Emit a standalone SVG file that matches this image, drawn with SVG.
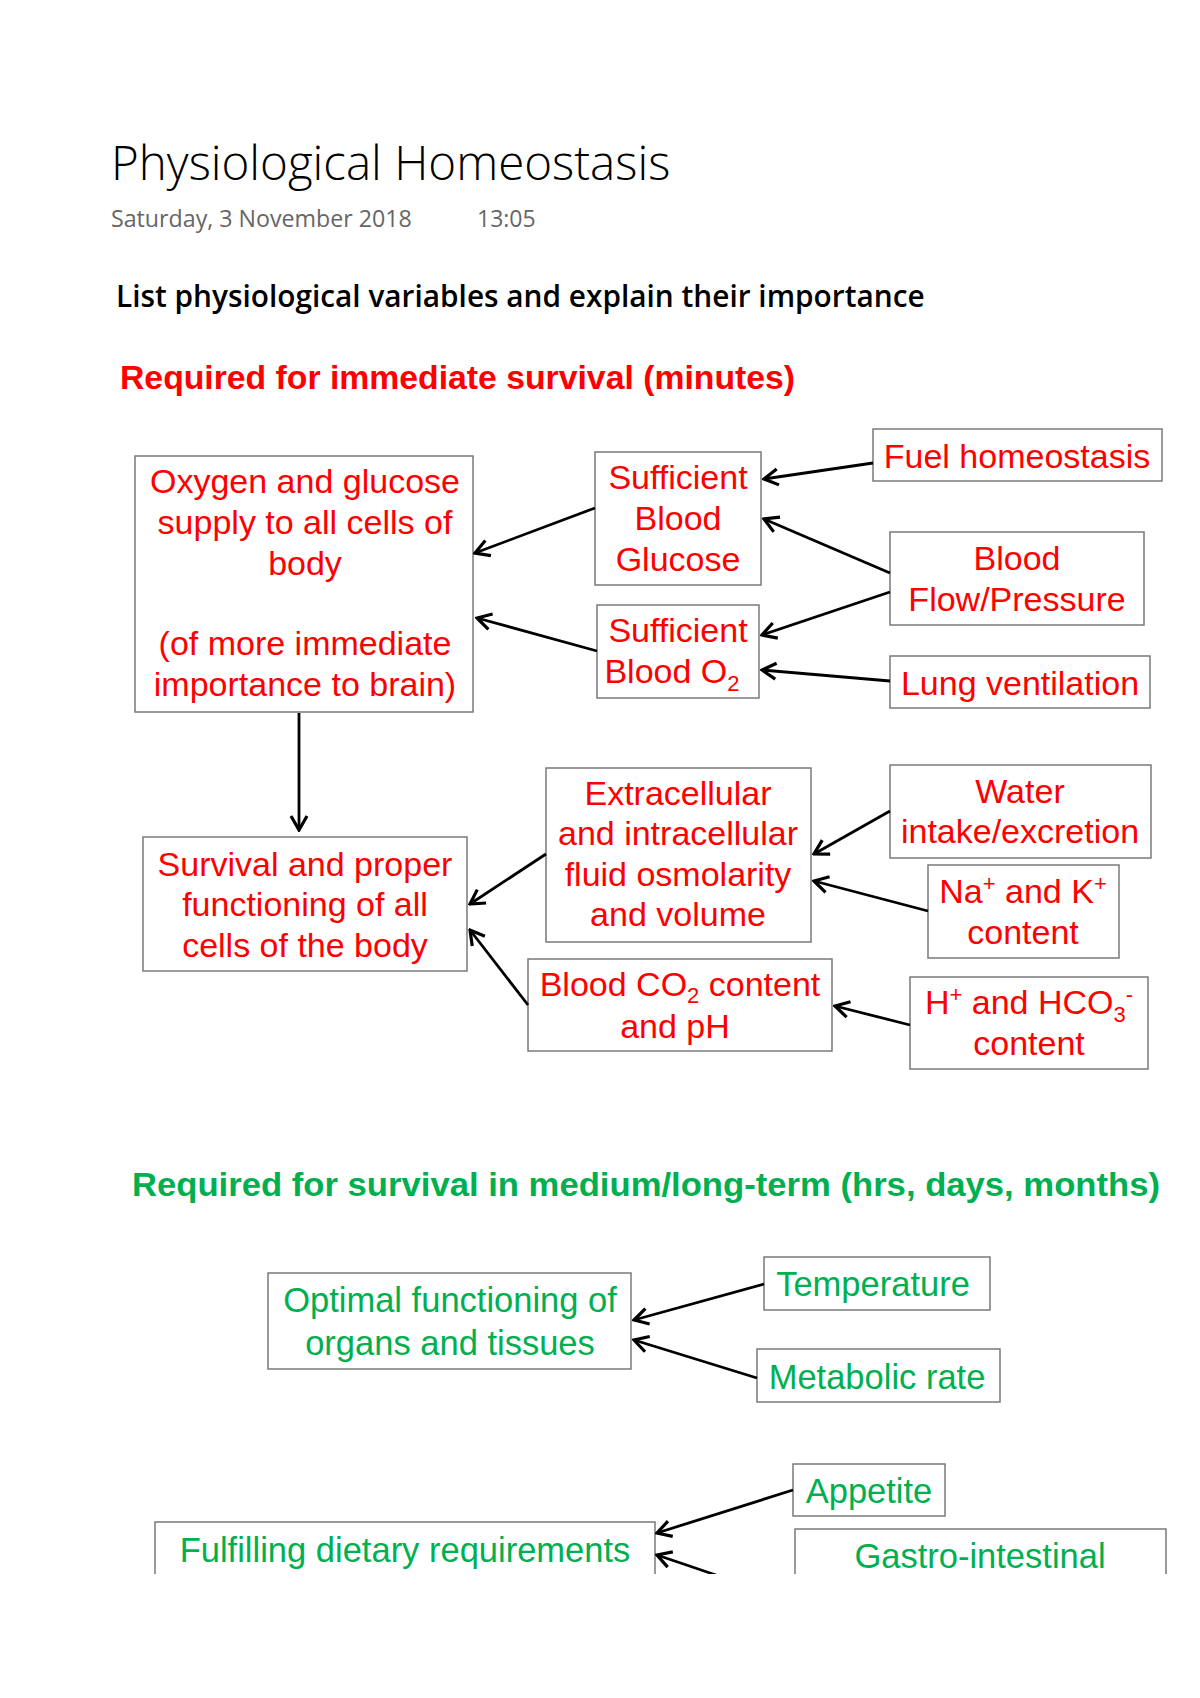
<svg xmlns="http://www.w3.org/2000/svg" width="1200" height="1698" viewBox="0 0 1200 1698">
<style>
.r{fill:#ff0000;font-family:"Liberation Sans",Arial,sans-serif;font-size:34px;text-anchor:middle}
.g{fill:#00b050;font-family:"Liberation Sans",Arial,sans-serif;font-size:34.5px;text-anchor:middle}
.box{fill:#fff;stroke:#7a7a7a;stroke-width:1.5}
.c line{stroke:#000;stroke-width:2.8}
.sub{font-size:22px}
</style>
<defs>
<marker id="a" viewBox="0 0 20 20" refX="18" refY="10" markerWidth="20" markerHeight="20" markerUnits="userSpaceOnUse" orient="auto">
<path d="M4,2 L18,10 L4,18" fill="none" stroke="#000" stroke-width="3.2"/>
</marker>
</defs>
<rect width="1200" height="1698" fill="#fff"/>
<text x="111" y="180" font-family="'Open Sans',sans-serif" font-weight="300" font-size="47.5" fill="#000">Physiological Homeostasis</text>
<text x="111" y="227" font-family="'Open Sans',sans-serif" font-size="23.2" fill="#666">Saturday, 3 November 2018</text>
<text x="477" y="227" font-family="'Open Sans',sans-serif" font-size="23" fill="#666">13:05</text>
<text x="116" y="307" font-family="'Open Sans',sans-serif" font-weight="600" font-size="29.8" fill="#000">List physiological variables and explain their importance</text>
<text x="120" y="389" font-family="'Liberation Sans',Arial,sans-serif" font-weight="bold" font-size="33" fill="#ff0000" textLength="675" lengthAdjust="spacingAndGlyphs">Required for immediate survival (minutes)</text>

<g id="oxygen"><rect class="box" x="135" y="456" width="338" height="256"/>
<text class="r"><tspan x="305" y="493">Oxygen and glucose</tspan><tspan x="305" y="534">supply to all cells of</tspan><tspan x="305" y="575">body</tspan><tspan x="305" y="655">(of more immediate</tspan><tspan x="305" y="696">importance to brain)</tspan></text></g>
<g id="sbg"><rect class="box" x="595" y="452" width="166" height="133"/>
<text class="r"><tspan x="678" y="489">Sufficient</tspan><tspan x="678" y="530">Blood</tspan><tspan x="678" y="571">Glucose</tspan></text></g>
<g id="sbo2"><rect class="box" x="597" y="605" width="162" height="93"/>
<text class="r"><tspan x="678" y="642">Sufficient</tspan><tspan x="672" y="683">Blood O<tspan class="sub" dy="8">2</tspan></tspan></text></g>
<g id="fuel"><rect class="box" x="873" y="429" width="289" height="52"/>
<text class="r" x="1017" y="468">Fuel homeostasis</text></g>
<g id="bfp"><rect class="box" x="890" y="532" width="254" height="93"/>
<text class="r"><tspan x="1017" y="570">Blood</tspan><tspan x="1017" y="611">Flow/Pressure</tspan></text></g>
<g id="lung"><rect class="box" x="890" y="656" width="260" height="52"/>
<text class="r" x="1020" y="695">Lung ventilation</text></g>
<g id="survival"><rect class="box" x="143" y="837" width="324" height="134"/>
<text class="r"><tspan x="305" y="876">Survival and proper</tspan><tspan x="305" y="916">functioning of all</tspan><tspan x="305" y="957">cells of the body</tspan></text></g>
<g id="extra"><rect class="box" x="546" y="768" width="265" height="174"/>
<text class="r"><tspan x="678" y="805">Extracellular</tspan><tspan x="678" y="845">and intracellular</tspan><tspan x="678" y="886">fluid osmolarity</tspan><tspan x="678" y="926">and volume</tspan></text></g>
<g id="co2"><rect class="box" x="528" y="959" width="304" height="92"/>
<text class="r"><tspan x="680" y="996">Blood CO<tspan class="sub" dy="7">2</tspan><tspan dy="-7"> content</tspan></tspan></text>
<text class="r" x="675" y="1038">and pH</text></g>
<g id="water"><rect class="box" x="890" y="765" width="261" height="93"/>
<text class="r"><tspan x="1020" y="803">Water</tspan><tspan x="1020" y="843">intake/excretion</tspan></text></g>
<g id="nak"><rect class="box" x="928" y="865" width="191" height="93"/>
<text class="r"><tspan x="1023" y="903">Na<tspan class="sub" dy="-12">+</tspan><tspan dy="12"> and K</tspan><tspan class="sub" dy="-12">+</tspan></tspan><tspan x="1023" y="944">content</tspan></text></g>
<g id="hhco3"><rect class="box" x="910" y="977" width="238" height="92"/>
<text class="r"><tspan x="1029" y="1014">H<tspan class="sub" dy="-12">+</tspan><tspan dy="12"> and HCO</tspan><tspan class="sub" dy="8">3</tspan><tspan class="sub" dy="-20">-</tspan></tspan><tspan x="1029" y="1055">content</tspan></text></g>

<text x="132" y="1196" font-family="'Liberation Sans',Arial,sans-serif" font-weight="bold" font-size="33" fill="#00b050" textLength="1028" lengthAdjust="spacingAndGlyphs">Required for survival in medium/long-term (hrs, days, months)</text>

<g id="optimal"><rect class="box" x="268" y="1273" width="363" height="96"/>
<text class="g"><tspan x="450" y="1312">Optimal functioning of</tspan><tspan x="450" y="1355">organs and tissues</tspan></text></g>
<g id="temp"><rect class="box" x="764" y="1257" width="226" height="53"/>
<text class="g" x="873" y="1296">Temperature</text></g>
<g id="metab"><rect class="box" x="757" y="1349" width="243" height="53"/>
<text class="g" x="877" y="1389">Metabolic rate</text></g>
<g id="appetite"><rect class="box" x="793" y="1464" width="152" height="52"/>
<text class="g" x="869" y="1503">Appetite</text></g>
<g id="fulfil"><rect class="box" x="155" y="1522" width="500" height="80"/>
<text class="g" x="405" y="1562">Fulfilling dietary requirements</text></g>
<g id="gastro"><rect class="box" x="795" y="1529" width="371" height="80"/>
<text class="g" x="980" y="1568">Gastro-intestinal</text></g>

<g id="connectors" class="c">
<line x1="299" y1="713" x2="299" y2="830" marker-end="url(#a)"/>
<line x1="595" y1="508" x2="475" y2="553" marker-end="url(#a)"/>
<line x1="597" y1="651" x2="477" y2="618" marker-end="url(#a)"/>
<line x1="873" y1="463" x2="764" y2="479" marker-end="url(#a)"/>
<line x1="890" y1="573" x2="764" y2="519" marker-end="url(#a)"/>
<line x1="890" y1="592" x2="762" y2="635" marker-end="url(#a)"/>
<line x1="890" y1="681" x2="762" y2="670" marker-end="url(#a)"/>
<line x1="546" y1="854" x2="470" y2="904" marker-end="url(#a)"/>
<line x1="528" y1="1005" x2="470" y2="930" marker-end="url(#a)"/>
<line x1="890" y1="811" x2="814" y2="854" marker-end="url(#a)"/>
<line x1="928" y1="911" x2="814" y2="881" marker-end="url(#a)"/>
<line x1="910" y1="1025" x2="835" y2="1006" marker-end="url(#a)"/>
<line x1="764" y1="1284" x2="634" y2="1320" marker-end="url(#a)"/>
<line x1="757" y1="1378" x2="634" y2="1340" marker-end="url(#a)"/>
<line x1="793" y1="1490" x2="657" y2="1533" marker-end="url(#a)"/>
<line x1="760" y1="1590" x2="657" y2="1555" marker-end="url(#a)"/>
</g>
<rect x="0" y="1574" width="1200" height="124" fill="#fff"/>
</svg>
